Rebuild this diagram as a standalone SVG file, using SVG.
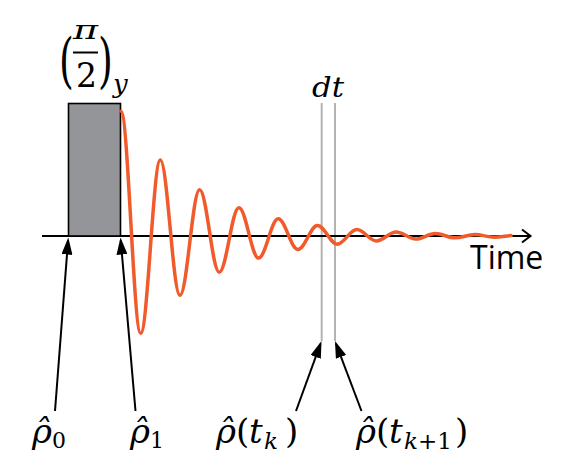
<svg xmlns="http://www.w3.org/2000/svg" width="570" height="473" viewBox="0 0 570 473">
<style>
.m{font-family:"DejaVu Serif","Liberation Serif",serif;fill:#000}
.i{font-style:italic}
.sans{font-family:"Open Sans","Liberation Sans",sans-serif;fill:#000}
.conn{stroke:#000;stroke-width:2;fill:none}
.grid{stroke:#b3b3b3;stroke-width:2;fill:none}
</style>
<defs>
<marker id="ah" markerUnits="userSpaceOnUse" markerWidth="17" markerHeight="11" viewBox="0 0 17 11" refX="14" refY="5.5" orient="auto">
<path d="M0,0 L17,5.5 L0,11 z" fill="#000"/>
</marker>
</defs>
<rect width="570" height="473" fill="#fff"/>

<g id="dt-lines">
<line class="grid" x1="321.7" y1="103" x2="321.7" y2="341"/>
<line class="grid" x1="335" y1="103" x2="335" y2="341"/>
<text class="m i" x="312" y="97" font-size="27" textLength="32" lengthAdjust="spacingAndGlyphs">dt</text>
</g>

<g id="axis">
<line x1="42" y1="236" x2="530" y2="236" stroke="#000" stroke-width="2"/>
<polyline points="522,229.5 530.5,236 522,242.5" fill="none" stroke="#000" stroke-width="2"/>
<text class="sans" x="470" y="269" font-size="32">Time</text>
</g>

<g id="pulse">
<rect x="68.5" y="103.5" width="52" height="132.5" fill="#939598" stroke="#000" stroke-width="1.6"/>
<text class="m" transform="translate(59,80.5) scale(1,1.59)" font-size="38">(</text>
<text class="m" transform="translate(98,80.5) scale(1,1.59)" font-size="38">)</text>
<text class="m i" x="73" y="39" font-size="26" textLength="25" lengthAdjust="spacingAndGlyphs">π</text>
<line x1="73" y1="52.5" x2="98" y2="52.5" stroke="#000" stroke-width="2"/>
<text class="m" x="76" y="86.5" font-size="33">2</text>
<text class="m i" x="113" y="93" font-size="26">y</text>
</g>

<g id="wave">
<path d="M121,111.3 C128.15,111.3 133.5,333.36 140.65,333.36 S153.15,159.99 160.3,159.99 S172.8,295.35 179.95,295.35 S192.45,189.66 199.6,189.66 S212.1,272.18 219.25,272.18 S231.75,207.75 238.9,207.75 S251.4,258.05 258.55,258.05 S271.05,218.78 278.2,218.78 S290.7,249.44 297.85,249.44 S310.35,225.5 317.5,225.5 S330,244.19 337.15,244.19 S349.65,229.6 356.8,229.6 S369.3,241 376.45,241 S388.95,232.1 396.1,232.1 S408.6,239.04 415.75,239.04 S428.25,233.62 435.4,233.62 S447.9,237.86 455.05,237.86 S467.55,234.55 474.7,234.55 S487.2,237.13 494.35,237.13 S506,235.8 511,235.6" fill="none" stroke="#f15a2b" stroke-width="3.5" stroke-linecap="round"/>
</g>

<g id="connectors">
<line class="conn" x1="55" y1="411" x2="68.07" y2="240.5" marker-end="url(#ah)"/>
<line class="conn" x1="135.5" y1="411" x2="120.76" y2="240.5" marker-end="url(#ah)"/>
<line class="conn" x1="296" y1="411" x2="320.47" y2="343.8" marker-end="url(#ah)"/>
<line class="conn" x1="361.5" y1="411" x2="336.06" y2="343.8" marker-end="url(#ah)"/>
</g>

<g id="rho0">
<text class="m" font-size="34"><tspan class="i" x="32" y="443">ρ̂</tspan><tspan x="52" y="448" font-size="22">0</tspan></text>
</g>
<g id="rho1">
<text class="m" font-size="34"><tspan class="i" x="130" y="443">ρ̂</tspan><tspan x="150" y="448" font-size="22">1</tspan></text>
</g>
<g id="rho-tk">
<text class="m" font-size="34"><tspan class="i" x="216" y="443">ρ̂</tspan><tspan x="236" y="443">(</tspan><tspan class="i" x="249" y="443">t</tspan><tspan class="i" x="264" y="449" font-size="23">k</tspan><tspan x="285" y="443">)</tspan></text>
</g>
<g id="rho-tk1">
<text class="m" font-size="34"><tspan class="i" x="356" y="443">ρ̂</tspan><tspan x="376" y="443">(</tspan><tspan class="i" x="389" y="443">t</tspan><tspan class="i" x="404" y="449" font-size="23">k</tspan><tspan x="418" y="449" font-size="23">+1</tspan><tspan x="455" y="443">)</tspan></text>
</g>
</svg>
